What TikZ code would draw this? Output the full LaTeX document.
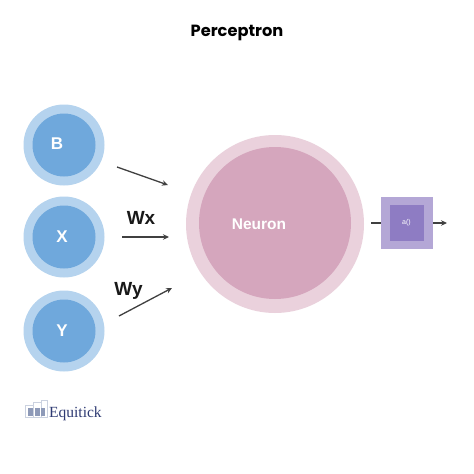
\documentclass[tikz,border=0pt]{standalone}
\usepackage{fontspec}
\setmainfont{Poppins}
\newfontfamily\serifmark{Liberation Serif}
\newfontfamily\arialmark{Liberation Sans}
\usetikzlibrary{arrows.meta}
\definecolor{inOuter}{HTML}{B5D3EE}
\definecolor{inInner}{HTML}{6FA8DC}
\definecolor{nOuter}{HTML}{EAD1DC}
\definecolor{nInner}{HTML}{D5A6BD}
\definecolor{bOuter}{HTML}{B4A7D6}
\definecolor{bInner}{HTML}{8E7CC3}
\definecolor{logoBlue}{HTML}{2F3B73}
\definecolor{logoBar}{HTML}{8E9AB8}
\definecolor{logoLine}{HTML}{CBD2E0}
\tikzset{
  x=1pt,y=-1pt,
  outerin/.style={circle,fill=inOuter,minimum size=81pt,inner sep=0pt},
  innerin/.style={circle,fill=inInner,minimum size=63pt,inner sep=0pt},
  inlabel/.style={text=white,inner sep=0pt,font=\arialmark\fontsize{17}{17}\selectfont\bfseries},
  weight/.style={font=\arialmark\fontsize{19}{19}\selectfont\bfseries,text=black!90},
  conn/.style={draw=black!75,line width=1.3pt,-{Stealth[length=6pt,width=5.5pt]}},
  logobar/.style={fill=logoBar,draw=none},
  logoframe/.style={draw=logoLine,line width=0.8pt,fill=none}
}
\begin{document}
\begin{tikzpicture}
\useasboundingbox (0,0) rectangle (474,474);
\fill[white] (0,0) rectangle (474,474);
\node[font=\fontsize{16.2}{17}\selectfont\bfseries,text=black] (title) at (237,33) {Perceptron};
\node[outerin] (bo) at (64,145) {};
\node[innerin] (b) at (64,145) {};
\node[inlabel] (bt) at (57,144) {B};
\node[outerin] (xo) at (64,237) {};
\node[innerin] (xn) at (64,237) {};
\node[inlabel] (xt) at (62,237) {X};
\node[outerin] (yo) at (64,331) {};
\node[innerin] (yn) at (64,331) {};
\node[inlabel] (yt) at (62,331) {Y};
\node[circle,fill=nOuter,minimum size=178pt,inner sep=0pt] (no) at (275,224) {};
\node[circle,fill=nInner,minimum size=152pt,inner sep=0pt] (neuron) at (275,223) {};
\node[text=white,inner sep=0pt,font=\arialmark\fontsize{15.5}{15.5}\selectfont\bfseries] (nt) at (259,224) {Neuron};
\node[rectangle,fill=bOuter,minimum size=52pt,inner sep=0pt] (boxo) at (407,223) {};
\node[rectangle,fill=bInner,minimum width=34pt,minimum height=36pt,inner sep=0pt,text=white,font=\arialmark\fontsize{7}{7}\selectfont] (box) at (406.5,223) {a()};
\node[weight] (wx) at (141,218) {Wx};
\node[weight] (wy) at (128.5,291) {Wy};
\coordinate (a1) at (117,167); \coordinate (a2) at (168,185);
\coordinate (c1) at (122,237); \coordinate (c2) at (169,237);
\coordinate (d1) at (119,316); \coordinate (d2) at (172,288);
\coordinate (l1) at (371,223); \coordinate (r2) at (447,223);
\draw[conn] (a1) -- (a2);
\draw[conn] (c1) -- (c2);
\draw[conn] (d1) -- (d2);
\draw[draw=black!75,line width=1.2pt] (l1) -- (boxo.west);
\draw[conn] (boxo.east) -- (r2);
\draw[logoframe] (25,417) rectangle (33,405);
\draw[logoframe] (33,417) rectangle (41,402);
\draw[logoframe] (41,417) rectangle (47,400);
\fill[logobar] (28,408) rectangle (33,416);
\fill[logobar] (35,408) rectangle (40,416);
\fill[logobar] (41,408) rectangle (45,416);
\node[font=\serifmark\fontsize{15.5}{16}\selectfont,text=logoBlue,anchor=west,inner sep=0pt] (logo) at (49,414) {Equitick};
\end{tikzpicture}
\end{document}
